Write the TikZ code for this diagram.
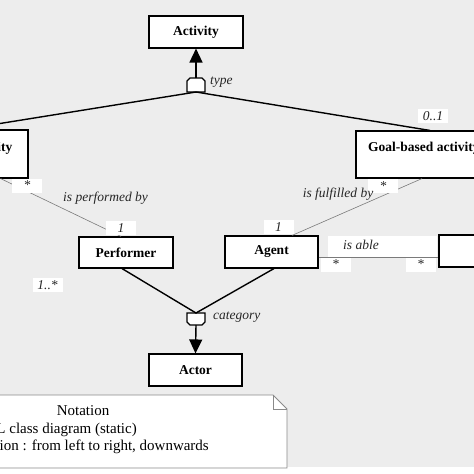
\documentclass[tikz,border=0pt]{standalone}
\usepackage{fontspec}
\setmainfont{Liberation Serif}
\usetikzlibrary{arrows.meta,calc}
\definecolor{bgc}{HTML}{EDEDED}
\definecolor{lgray}{HTML}{7A7A7A}
\definecolor{notegray}{HTML}{8A8A8A}
\begin{document}
\begin{tikzpicture}[x=1pt,y=-1pt,
  cls/.style={draw=black, line width=1.1pt, fill=white, inner sep=0pt,
    font=\bfseries\fontsize{13.5}{15}\selectfont},
  clsname/.style={inner sep=0pt, font=\bfseries\fontsize{13.5}{15}\selectfont},
  lbl/.style={inner sep=0pt, font=\itshape\fontsize{13.5}{15}\selectfont, text=black!85},
  mult/.style={fill=white, inner sep=0pt, minimum width=30, minimum height=14,
    font=\itshape\fontsize{13.5}{15}\selectfont, text=black!85},
  gen/.style={line width=1.4pt, black},
  assoc/.style={line width=0.6pt, lgray},
  garrow/.style={line width=1.4pt, -{Triangle[length=14pt,width=13pt]}},
  disc/.style={line width=1.3pt, draw=black, fill=white},
  notetxt/.style={inner sep=0pt, font=\fontsize{15}{17}\selectfont}
]
\useasboundingbox (0,0) rectangle (474,474);
\clip (0,0) rectangle (474,474);
\fill[bgc] (0,0) rectangle (474,467);

% classes
\node[cls, minimum width=130, minimum height=48] (leftact) at (-37,154) {};
\node[clsname, anchor=east] (leftname) at (12.5,148) {Basic activity};
\node[cls, minimum width=94, minimum height=32] (activity) at (196,32) {Activity};
\node[cls, minimum width=148, minimum height=47] (goal) at (430,154.5) {};
\node[clsname, anchor=west] (goalname) at (368,148) {Goal-based activity};
\node[cls, minimum width=94, minimum height=31] (perf) at (126,252.5) {Performer};
\node[cls, minimum width=93, minimum height=32] (agent) at (271.5,252) {Agent};
\node[cls, minimum width=80, minimum height=32] (cap) at (479,251) {};
\node[cls, minimum width=93, minimum height=32] (actor) at (195.5,370) {Actor};

% discriminator "type"
\coordinate (typebot) at (196,92);
\coordinate (typetop) at (196,78);
\draw[disc] ($(typebot)+(-9,0)$) -- ($(typebot)+(-9,-11)$) -- ($(typetop)+(-6,0)$)
  -- ($(typetop)+(6,0)$) -- ($(typebot)+(9,-11)$) -- ($(typebot)+(9,0)$) -- cycle;
\node[lbl, anchor=west] (typelbl) at (210,82) {type};
\draw[garrow] (typetop) -- (activity.south);
\draw[gen] (leftact.north) -- (typebot) -- (goal.north);

% discriminator "category"
\coordinate (cattop) at (196,313);
\coordinate (catbot) at (196,325);
\draw[disc] ($(cattop)+(-9,0)$) -- ($(cattop)+(9,0)$) -- ($(cattop)+(9,9)$)
  -- ($(catbot)+(6,0)$) -- ($(catbot)+(-6,0)$) -- ($(cattop)+(-9,9)$) -- cycle;
\node[lbl, anchor=west] (catlbl) at (213,317) {category};
\draw[gen] ([xshift=-4pt]perf.south) -- (cattop) -- ([xshift=2.5pt]agent.south);
\draw[garrow] (catbot) -- (actor.north);

% associations
\coordinate (leftend) at ($(leftact.south east)+(-28,0)$);
\draw[assoc] (leftend) -- ([xshift=-5pt]perf.north);
\draw[assoc] ([xshift=20.5pt]agent.north) -- ([xshift=-8pt]goal.south);
\fill[white] (328,236) rectangle (437,256.5);
\coordinate (ableL) at ([yshift=-5pt]agent.east);
\draw[assoc] (ableL) -- (cap.west |- ableL);

% multiplicities
\node[mult] (m01) at (433,116) {0..1};
\node[mult] (m1) at (27,185.5) {*};
\node[mult] (m2) at (121,228) {1};
\node[mult] (m3) at (278.5,227) {1};
\node[mult] (m4) at (383,186) {*};
\node[mult] (m5) at (335.5,264.5) {*};
\node[mult] (m6) at (420.5,264.5) {*};
\node[mult] (m7) at (47.5,285) {1..*};

% association names
\node[lbl] (perfby) at (105.5,198) {is performed by};
\node[lbl] (fulfby) at (338,194) {is fulfilled by};
\node[lbl, anchor=west] (isable) at (343,245) {is able};

% note
\draw[notegray, line width=0.9pt, fill=white] (-5,395) -- (273,395) -- (287,409) -- (287,468) -- (-5,468) -- cycle;
\draw[notegray, line width=0.9pt] (273,395) -- (273,409) -- (287,409);
\node[notetxt] (notetitle) at (83,411) {Notation};
\node[notetxt, anchor=east] (note1) at (137,430) {UML class diagram (static)};
\node[notetxt, anchor=east] (note2) at (209,447) {Reading direction : from left to right, downwards};
\end{tikzpicture}
\end{document}
